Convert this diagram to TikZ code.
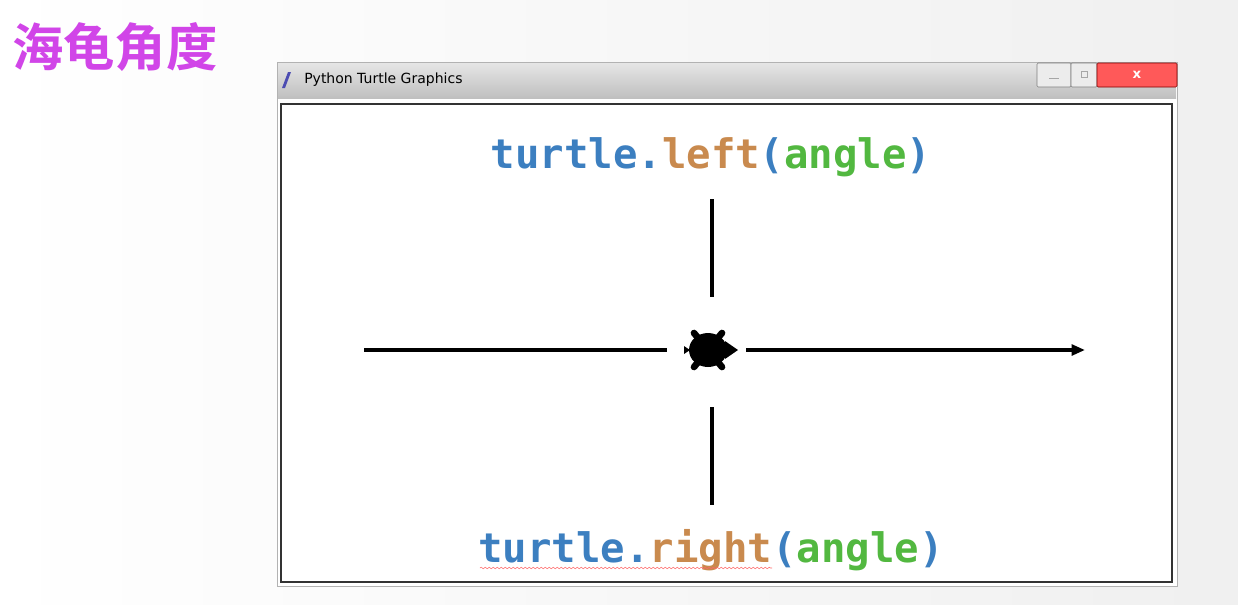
\documentclass[tikz,border=0pt]{standalone}
\usepackage{fontspec}
\newfontfamily\cjk{Noto Sans CJK SC Bold}
\newfontfamily\mono{DejaVu Sans Mono Bold}
\newfontfamily\uisans{DejaVu Sans}
\usetikzlibrary{arrows.meta,decorations.pathmorphing}
\definecolor{cblue}{HTML}{3C7FC0}
\definecolor{corange}{HTML}{C98A4E}
\definecolor{cgreen}{HTML}{52B840}
\definecolor{ttl}{HTML}{D145E8}
\begin{document}
\begin{tikzpicture}[x=0.75pt,y=-0.75pt,
  axis/.style={line width=3.2pt,black},
  code/.style={font=\mono\fontsize{30.5}{30.5}\selectfont,inner sep=0pt}]
\useasboundingbox (0,0) rectangle (1238,604);
\shade[left color=white,right color=gray!12] (0,0) rectangle (1238,604);
\node[font=\cjk\fontsize{38.5}{38.5}\selectfont,text=ttl,anchor=west,inner sep=0pt] (title) at (12,47) {海龟角度};
% window
\node[draw=gray!60,fill=white,minimum width=900*0.75pt,minimum height=524*0.75pt,anchor=north west,inner sep=0pt] (win) at (277,62) {};
\shade[top color=gray!20,bottom color=gray!50] (278,63) rectangle (1176,98);
\node[font=\uisans\fontsize{10.5}{10.5}\selectfont,anchor=west,inner sep=0pt] (wt) at (304,80) {Python Turtle Graphics};
\fill[gray!60!blue] (282,88) -- (288,72) -- (291,72) -- (285,88) -- cycle;
\node[draw=gray,fill=gray!15,rounded corners=1pt,minimum width=34*0.75pt,minimum height=24*0.75pt,inner sep=0pt] (bmin) at (1054,75) {};
\node[draw=gray,fill=gray!15,rounded corners=1pt,minimum width=26*0.75pt,minimum height=24*0.75pt,inner sep=0pt] (bmax) at (1084,75) {};
\node[draw=red!50!black,fill=red!65,rounded corners=1pt,minimum width=80*0.75pt,minimum height=24*0.75pt,inner sep=0pt,text=white,font=\uisans\bfseries\fontsize{10}{10}\selectfont] (bx) at (1137,75) {x};
\draw[gray!70,line width=0.6pt] (1049,78)--(1059,78);
\draw[gray!70,line width=0.6pt] (1081,71) rectangle (1087,77);
\draw[line width=1.2pt,gray!40!black] (281,104) rectangle (1172,582);
\fill[white] (282,105.5) rectangle (1171,581);
% text
\node[code] (lt) at (711,157) {\textcolor{cblue}{turtle.}\textcolor{corange}{left}\textcolor{cblue}{(}\textcolor{cgreen}{angle}\textcolor{cblue}{)}};
\node[code] (rt) at (711,550) {\textcolor{cblue}{turtle.}\textcolor{corange}{right}\textcolor{cblue}{(}\textcolor{cgreen}{angle}\textcolor{cblue}{)}};
\draw[red!60,decorate,decoration={snake,amplitude=0.6pt,segment length=3pt}] (480,568) -- (772,568);
% axes
\coordinate (t1) at (712,199); \coordinate (t2) at (712,297);
\coordinate (b1) at (712,407); \coordinate (b2) at (712,505);
\coordinate (l1) at (364,350); \coordinate (l2) at (667,350);
\coordinate (r1) at (746,350); \coordinate (r2) at (1085,350);
\draw[axis] (t1)--(t2); \draw[axis] (b1)--(b2); \draw[axis] (l1)--(l2);
\draw[axis,-{Triangle[length=10pt,width=8pt]}] (r1)--(r2);
% turtle
\fill (708,350) ellipse [x radius=19, y radius=17];
\fill (725,341) -- (738,350) -- (725,359) -- cycle;
\foreach \a/\b in {694/333,722/333,694/367,722/367}
  \draw[line width=5pt,line cap=round] (708,350) -- (\a,\b);
\fill (690,350) -- (684,346) -- (684,354) -- cycle;
\end{tikzpicture}
\end{document}
